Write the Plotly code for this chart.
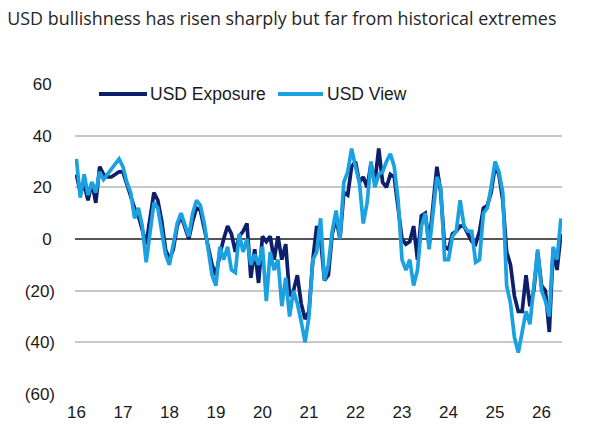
import plotly.graph_objects as go

# Monthly observations, Jan 2016 .. Jun 2026
start_year = 16
usd_exposure = [
    25, 18, 21, 15, 22, 14, 28, 25, 24, 24, 25, 26,          # 2016
    26, 21, 17, 12, 9, 3, -2, 8, 18, 15, 7, -4,              # 2017
    -8, -4, 5, 9, 5, 0, 7, 12, 11, 4, -3, -10,               # 2018
    -14, -6, 0, 5, 2, -5, 1, 3, 6, -15, -4, -17,             # 2019
    1, -1, 1, -8, 1, -8, -2, -22, -20, -14, -25, -31,        # 2020
    -28, -8, 5, 0, -16, -14, 2, 8, 0, 18, 17, 28,            # 2021
    30, 22, 24, 20, 29, 22, 35, 22, 20, 25, 24, 12,          # 2022
    0, -2, -1, 5, -8, 9, 10, -2, 12, 28, 18, -3,             # 2023
    -4, 2, 3, 5, 5, 2, -1, -2, 3, 12, 13, 18,                # 2024
    28, 25, 15, -5, -10, -22, -28, -28, -14, -26, -20, -5,   # 2025
    -18, -20, -36, -4, -12, 2,                               # 2026
]
usd_view = [
    31, 16, 25, 17, 22, 18, 26, 23, 25, 27, 29, 31,          # 2016
    28, 22, 18, 8, 12, 5, -9, 3, 14, 12, 2, -6,              # 2017
    -10, -2, 6, 10, 5, 1, 10, 15, 13, 6, -4, -14,            # 2018
    -18, -3, -8, -3, -12, -13, 2, -5, 0, -10, -6, -10,       # 2019
    -3, -24, -5, -12, -8, -26, -15, -30, -20, -25, -32, -40, # 2020
    -30, -8, -5, 8, -16, -10, 3, 11, 0, 22, 26, 35,          # 2021
    28, 22, 6, 14, 30, 20, 25, 26, 30, 33, 28, 15,           # 2022
    -8, -12, -8, -18, -12, 5, 10, -4, 10, 24, 20, -8,        # 2023
    -8, 1, 3, 15, 5, 3, 3, -9, -8, 10, 12, 20,               # 2024
    30, 26, 18, -18, -25, -38, -44, -35, -28, -33, -18, -4,  # 2025
    -20, -24, -30, -3, -8, 8,                                # 2026
]
series_names = ["USD Exposure", "USD View"]
series_colors = ["#0d1f6b", "#1ba1e2"]
x_ticks = list(range(16, 27))
x_tick_labels = [str(v) for v in x_ticks]
y_ticks = [-60, -40, -20, 0, 20, 40, 60]
y_tick_labels = ["(60)", "(40)", "(20)", "0\u2009", "20\u2009", "40\u2009", "60\u2009"]

x_vals = [start_year + i / 12 for i in range(len(usd_exposure))]

SANS = "Liberation Sans, Arial, sans-serif"
tick_font = dict(family=SANS, size=17, color="#1a1a1a")
legend_font = dict(family=SANS, size=17.5, color="#1a1a1a")

fig = go.Figure()
for name, vals, col in zip(series_names, [usd_exposure, usd_view], series_colors):
    fig.add_trace(go.Scatter(
        x=x_vals, y=vals, mode="lines", name=name,
        line=dict(color=col, width=3.7), showlegend=False,
    ))

# legend drawn manually (longer line samples as in the reference)
legend_y = 0.968
legend_items = [(0.0493, 0.1478, 0.1499), (0.4168, 0.5092, 0.5135)]
for (x0, x1, xt), name, col in zip(legend_items, series_names, series_colors):
    fig.add_shape(type="line", xref="paper", yref="paper",
                  x0=x0, x1=x1, y0=legend_y, y1=legend_y,
                  line=dict(color=col, width=4))
    fig.add_annotation(xref="paper", yref="paper", x=xt, y=legend_y,
                       xanchor="left", yanchor="middle", text=name,
                       showarrow=False, font=legend_font)

fig.update_layout(
    width=605, height=448,
    margin=dict(l=75, r=43, t=84, b=54),
    paper_bgcolor="white", plot_bgcolor="white",
    title=dict(
        text="USD bullishness has risen sharply but far from historical extremes",
        x=0.012, xanchor="left", y=0.958, yanchor="middle",
        font=dict(family="Open Sans, sans-serif", size=17.9, color="#262626"),
    ),
    showlegend=False,
)
fig.update_xaxes(
    range=[15.97, 26.44],
    tickmode="array", tickvals=x_ticks, ticktext=x_tick_labels,
    showgrid=False, zeroline=False, showline=False,
    ticks="", tickfont=tick_font, ticklabelstandoff=6,
)
fig.update_yaxes(
    range=[-60, 60],
    tickmode="array", tickvals=y_ticks, ticktext=y_tick_labels,
    showgrid=True, gridcolor="#c8c8c8", gridwidth=1.5,
    zeroline=True, zerolinecolor="#555555", zerolinewidth=1.5,
    showline=False, ticks="", tickfont=tick_font, ticklabelstandoff=19,
)

fig.write_html("out.html")
